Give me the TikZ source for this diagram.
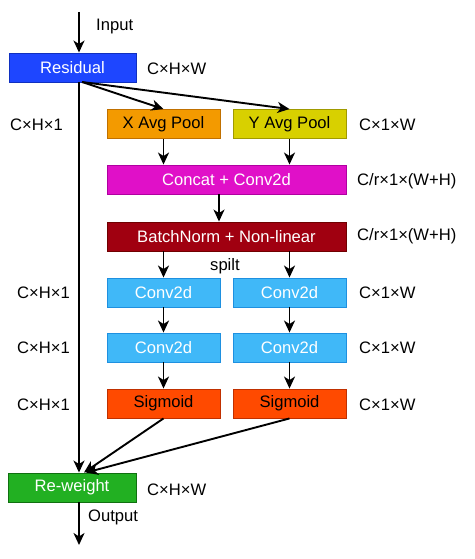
\documentclass[tikz,border=0pt]{standalone}
\usepackage{fontspec}
\setmainfont{Liberation Sans}
\usetikzlibrary{arrows.meta,calc}
\definecolor{cres}{HTML}{1E46FF}\definecolor{cresb}{HTML}{1030C0}
\definecolor{cxap}{HTML}{F39A00}\definecolor{cxapb}{HTML}{C07000}
\definecolor{cyap}{HTML}{D8D000}\definecolor{cyapb}{HTML}{A09A00}
\definecolor{ccc}{HTML}{E010C8}\definecolor{cccb}{HTML}{B000A0}
\definecolor{cbn}{HTML}{A00010}\definecolor{cbnb}{HTML}{700000}
\definecolor{cconv}{HTML}{40B8F8}\definecolor{cconvb}{HTML}{1E90E0}
\definecolor{csig}{HTML}{FF4A00}\definecolor{csigb}{HTML}{C03000}
\definecolor{crw}{HTML}{22B022}\definecolor{crwb}{HTML}{107010}
\tikzset{
  box/.style={draw, line width=0.9pt, minimum height=29pt, inner sep=0pt, font=\fontsize{16.6}{18}\selectfont},
  narrow/.style={box, minimum width=113pt},
  wide/.style={box, minimum width=239pt},
  lbl/.style={font=\fontsize{16.6}{18}\selectfont, inner sep=0pt},
  arr/.style={line width=1.9pt, -{Stealth[length=12pt,width=11pt,inset=3.5pt]}},
}
\begin{document}
\begin{tikzpicture}[x=1pt,y=-1pt]
\useasboundingbox (0,0) rectangle (474,559);
\node[box, minimum width=127pt, fill=cres, draw=cresb, text=white] (res) at (72.5,67.5) {Residual};
\node[narrow, fill=cxap, draw=cxapb] (xap) at (163.5,124) {X Avg Pool};
\node[narrow, fill=cyap, draw=cyapb] (yap) at (289.5,124) {Y Avg Pool};
\node[wide, fill=ccc, draw=cccb, text=white] (cc) at (226.5,179.5) {Concat + Conv2d};
\node[wide, fill=cbn, draw=cbnb, text=white] (bn) at (226.5,236.5) {BatchNorm + Non-linear};
\node[narrow, fill=cconv, draw=cconvb, text=white] (c1l) at (163.5,292.5) {Conv2d};
\node[narrow, fill=cconv, draw=cconvb, text=white] (c1r) at (289.5,292.5) {Conv2d};
\node[narrow, fill=cconv, draw=cconvb, text=white] (c2l) at (163.5,347.5) {Conv2d};
\node[narrow, fill=cconv, draw=cconvb, text=white] (c2r) at (289.5,347.5) {Conv2d};
\node[narrow, fill=csig, draw=csigb] (sl) at (163.5,403.5) {Sigmoid};
\node[narrow, fill=csig, draw=csigb] (sr) at (289.5,403.5) {Sigmoid};
\node[box, minimum width=128pt, fill=crw, draw=crwb, text=white] (rw) at (72,487.5) {Re-weight};
% labels
\node[lbl, anchor=west] (lin) at (96,27) {Input};
\node[lbl, anchor=west] (l1) at (147,69) {C×H×W};
\node[lbl, anchor=west] (l2) at (10,125) {C×H×1};
\node[lbl, anchor=west] (l3) at (359,125) {C×1×W};
\node[lbl, anchor=west] (l4) at (357,181) {C/r×1×(W+H)};
\node[lbl, anchor=west] (l5) at (357,236) {C/r×1×(W+H)};
\node[lbl, anchor=west] (lsp) at (210,266) {spilt};
\node[lbl, anchor=west] (l6) at (17,293) {C×H×1};
\node[lbl, anchor=west] (l7) at (359,293) {C×1×W};
\node[lbl, anchor=west] (l8) at (17,348) {C×H×1};
\node[lbl, anchor=west] (l9) at (359,348) {C×1×W};
\node[lbl, anchor=west] (l10) at (17,405) {C×H×1};
\node[lbl, anchor=west] (l11) at (359,405) {C×1×W};
\node[lbl, anchor=west] (l12) at (147,490) {C×H×W};
\node[lbl, anchor=west] (lout) at (88,517) {Output};
% connectors
\coordinate (inp) at (79,12);
\coordinate (rs) at (79,82);
\coordinate (rs2) at (82,82);
\coordinate (outp) at (79,545);
\coordinate (ccs) at ($(cc.south)+(-7.5,0)$);
\draw[arr] (inp) -- (inp |- res.north);
\draw[arr] (rs) -- (rs |- rw.north);
\draw[arr] (rs2) -- (xap.north);
\draw[arr] (rs2) -- (yap.north);
\draw[arr] (xap.south) -- (xap.south |- cc.north);
\draw[arr] (yap.south) -- (yap.south |- cc.north);
\draw[arr] (ccs) -- (ccs |- bn.north);
\draw[arr] (bn.south -| c1l) -- (c1l.north);
\draw[arr] (bn.south -| c1r) -- (c1r.north);
\draw[arr] (c1l.south) -- (c2l.north);
\draw[arr] (c1r.south) -- (c2r.north);
\draw[arr] (c2l.south) -- (sl.north);
\draw[arr] (c2r.south) -- (sr.north);
\draw[arr] (sl.south) -- ($(rw.north)+(12,0)$);
\draw[arr] (sr.south) -- ($(rw.north)+(14,0)$);
\draw[arr] (rw.south -| rs) -- (outp);
\end{tikzpicture}
\end{document}
